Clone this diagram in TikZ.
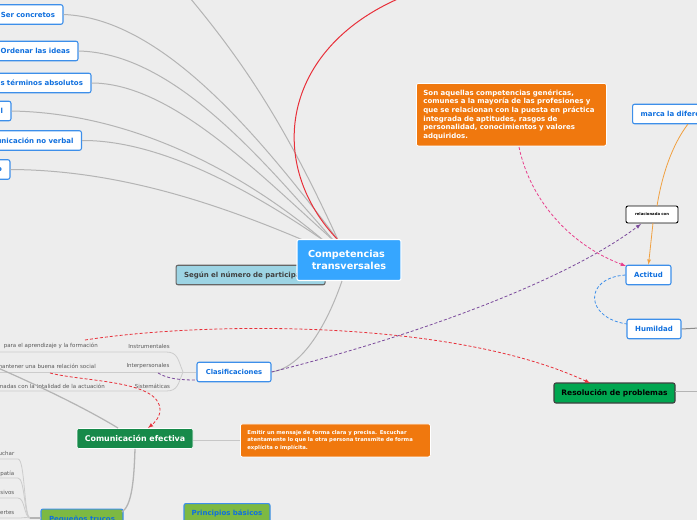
\documentclass[tikz,border=0pt]{standalone}
\usepackage{fontspec}
\setmainfont{DejaVu Sans}
\tikzset{box/.style={draw, rounded corners=2pt, font=\bfseries\fontsize{7}{8.7}\selectfont, inner sep=0pt, line width=1.1pt}}
\definecolor{myback}{HTML}{EDEDED}
\definecolor{myblue}{HTML}{0F6FDE}
\definecolor{myedge}{HTML}{3D8FEA}
\definecolor{mysky}{HTML}{36A6FF}
\definecolor{mylight}{HTML}{9DD4E4}
\definecolor{myorange}{HTML}{F0780E}
\definecolor{mygreen}{HTML}{178A4A}
\definecolor{mygrass}{HTML}{00A650}
\definecolor{mylime}{HTML}{7DB942}
\definecolor{mylink}{HTML}{B4B4B4}
\definecolor{myred}{HTML}{E8303A}
\definecolor{mypink}{HTML}{E83E8C}
\definecolor{mypurple}{HTML}{7B4A9C}
\definecolor{myamber}{HTML}{F0A040}
\tikzset{sub/.style={box, draw=myedge, fill=white, text=myblue, minimum height=19.5pt}}
\tikzset{cut/.style={sub, anchor=east, text width=#1, align=right, inner xsep=8pt}}
\tikzset{lime/.style={box, draw=myedge, fill=mylime, text=myblue, minimum height=26pt, anchor=north, text depth=7pt}}
\tikzset{note/.style={box, draw=white, fill=myorange, text=white, align=left, anchor=north west, line width=0.8pt}}
\tikzset{tiny/.style={font=\fontsize{5.5}{6}\selectfont, text=black!65, inner sep=0pt}}
\tikzset{link/.style={draw=mylink, line width=1pt}}
\tikzset{soft link/.style={draw=black!20, line width=0.8pt}}
\tikzset{rel/.style={densely dashed, line width=0.8pt}}
\begin{document}
\begin{tikzpicture}[x=1pt, y=-1pt]
\path [fill=myback] (0,0) rectangle (697,520);
\path [use as bounding box] (0,0) rectangle (697,520);
\clip (0,0) rectangle (697,520);
% free ends
\coordinate (top) at (190,-2);
\coordinate (redtop) at (400,-2);
\coordinate (rightA) at (699,328);
\coordinate (rightB) at (699,391);
\coordinate (leftA) at (-2,352);
\coordinate (leftB) at (-2,372);
\coordinate (leftC) at (-2,391);
\coordinate (leftD) at (-2,368);
\coordinate (fork) at (183,372);
\coordinate (c1) at (338,240);
\coordinate (c2) at (333,240);
\coordinate (c3) at (323,240);
\coordinate (c4) at (303,240);
\coordinate (c5) at (342,281);
% left nodes
\node [cut=60pt] (concretos) at (63.5,14.5) {Ser concretos};
\node [cut=80pt] (ideas) at (78.5,51) {Ordenar las ideas};
\node [cut=90pt] (absolutos) at (91.5,83) {s términos absolutos};
\node [cut=20pt] (uno) at (11.5,111) {l};
\node [cut=90pt] (noverbal) at (82,140.5) {unicación no verbal};
\node [cut=20pt] (dos) at (10.5,169.5) {o};
\draw [link] (c1) .. controls (290,135) and (250,70) .. (top);
\draw [link] (c1) .. controls (255,130) and (160,18) .. (concretos.east);
\draw [link] (c2) .. controls (255,150) and (170,53) .. (ideas.east);
\draw [link] (c2) .. controls (255,170) and (170,83) .. (absolutos.east);
\draw [link] (c3) .. controls (240,170) and (130,113) .. (uno.east);
\draw [link] (c3) .. controls (250,190) and (160,140) .. (noverbal.east);
\draw [link] (c4) .. controls (220,205) and (120,170) .. (dos.east);
\draw [myred, line width=1pt] (c1) .. controls (266,165) and (280,50) .. (redtop);
% nodes
\node [box, draw=black!60, fill=mylight, text width=133pt, inner xsep=8pt, minimum height=19.5pt, text=black!75, align=left, anchor=west] (numero) at (175.5,275) {Según el número de participa};
\node [box, draw=white, fill=mysky, minimum width=104pt, minimum height=41pt, text=white, align=center, font=\bfseries\fontsize{9.7}{12}\selectfont] (central) at (349,260) {\hspace{-5pt}Competencias\\ transversales};
\node [note, text width=176pt, inner xsep=7pt, inner ysep=6pt, minimum height=61pt] (genericas) at (416,83) {Son aquellas competencias genéricas,\\comunes a la mayoría de las profesiones y\\que se relacionan con la puesta en práctica\\integrada de aptitudes, rasgos de\\personalidad, conocimientos y valores\\adquiridos.};
\node [sub, anchor=west, text width=80pt, align=left, inner xsep=8pt] (marca) at (632,114) {marca la difere};
\node [box, draw=black, fill=white, text=black, minimum width=52pt, minimum height=17pt, font=\bfseries\fontsize{3.8}{4}\selectfont, line width=0.9pt] (relacion) at (652,214.5) {relacionada con};
\node [sub, minimum width=45pt] (actitud) at (648.5,275) {Actitud};
\node [sub, minimum width=54pt] (humildad) at (654,329) {Humildad};
\node [box, draw=black!75, fill=mygrass, text=black, minimum width=121pt, minimum height=20pt, font=\bfseries\fontsize{7.5}{9}\selectfont] (problemas) at (614.5,393) {Resolución de problemas};
\node [sub, minimum width=74pt, font=\bfseries\fontsize{6.8}{8}\selectfont] (clases) at (234,372) {Clasificaciones};
\node [box, draw=white, fill=mygreen, text=white, minimum width=116pt, minimum height=20pt, font=\bfseries\fontsize{7.9}{9}\selectfont, line width=0.6pt] (efectiva) at (135,438.5) {Comunicación efectiva};
\node [note, text width=176pt, inner xsep=7pt, inner ysep=5pt, minimum height=33pt, font=\bfseries\fontsize{5.3}{7.8}\selectfont] (mensaje) at (240,423.5) {Emitir un mensaje de forma clara y precisa. Escuchar\\atentamente lo que la otra persona transmite de forma\\explícita o implícita.};
\node [lime, minimum width=86pt] (basicos) at (227,503) {Principios básicos};
\node [lime, minimum width=82pt] (trucos) at (82,508.5) {Pequeños trucos};
% small labels
\foreach \n/\x/\y/\t in {instr/149/346/Instrumentales, inter/148/366/Interpersonales, siste/152.5/386/Sistemáticas} {
  \node [tiny] (\n) at (\x,\y) {\t};
}
\foreach \n/\x/\y/\t in {formacion/98/346/para el aprendizaje y la formación, social/96/366/mantener una buena relación social, actuacion/105/386/nadas con la totalidad de la actuación} {
  \node [tiny, anchor=east] (\n) at (\x,\y) {\t};
}
\foreach \n/\y/\t in {uchar/453.5/uchar, patia/473.5/patía, sivos/492.5/sivos, ertes/512.5/ertes} {
  \node [tiny, anchor=east] (\n) at (14.5,\y) {\t};
}
% tree links
\coordinate (e1) at (118,428);
\coordinate (t1) at (122,512);
\coordinate (t2) at (30,518);
\coordinate (t3) at (41,518);
\draw [soft link] (clases.west) -- (fork);
\draw [soft link] (fork) .. controls (178,360) and (178,352) .. (166,352) -- (leftA);
\draw [soft link] (fork) -- (leftB);
\draw [soft link] (fork) .. controls (178,384) and (178,391) .. (166,391) -- (leftC);
\foreach \y in {459,478,498,518} {
  \draw [soft link] (-2,\y) -- (18,\y) .. controls (25,\y) and (24,517) .. (t2);
}
\draw [link, line width=1.3pt] (t2) -- (t3);
\draw [link, line width=1.2pt] (leftD) .. controls (30,382) and (80,405) .. (e1);
\draw [link, line width=1.3pt] (efectiva.south) .. controls (134,480) and (132,505) .. (t1);
\draw [link, draw=black!22, line width=1.5pt] (efectiva.east |- mensaje.west) -- (mensaje.west);
\draw [link] (c5) .. controls (325,330) and (300,368) .. (clases.east);
\draw [link, draw=black!45] (humildad.east) -- (rightA);
\coordinate (p2) at (675,391);
\draw [link] (p2) -- (rightB);
% dashed relations
\coordinate (pinkstart) at (519,147);
\coordinate (redA) at (85,340);
\coordinate (redB) at (50,373);
\coordinate (purple) at (158,373);
\coordinate (purpleB) at (197,380);
\coordinate (p1) at (590,383);
\coordinate (e2) at (148,428);
\coordinate (e3) at (160,410);
\coordinate (r1) at (641,224);
\coordinate (r2) at (657,206);
\coordinate (r3) at (653,223);
\coordinate (a1) at (626,266);
\coordinate (h1) at (627,324);
\coordinate (m1) at (688,124);
\draw [rel, myred, -latex] (redA) .. controls (200,322) and (450,318) .. (p1);
\draw [rel, myred, -latex] (redB) .. controls (85,382) and (160,380) .. (e3) .. controls (160,418) and (153,424) .. (e2);
\draw [rel, mypurple] (purple) .. controls (168,379) and (180,380) .. (purpleB);
\draw [rel, mypurple, -latex] (clases.east) .. controls (400,340) and (560,285) .. (r1);
\draw [rel, mypink, -latex] (pinkstart) .. controls (530,200) and (570,245) .. (a1);
\draw [rel, myedge] (actitud.west) .. controls (583,278) and (585,318) .. (h1);
\draw [myamber, line width=0.8pt] (m1) .. controls (672,145) and (662,175) .. (r2);
\draw [myamber, line width=0.8pt, -latex] (r3) -- (actitud.north);
\end{tikzpicture}
\end{document}
